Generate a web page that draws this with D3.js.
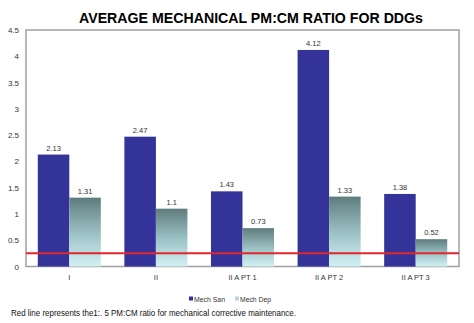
<!DOCTYPE html>
<html><head><meta charset="utf-8">
<script src="https://cdn.jsdelivr.net/npm/d3@7"></script>
<style>body{margin:0;background:#fff}svg{display:block}text{font-family:"Liberation Sans",Arial,sans-serif}</style>
</head><body><svg id="c" width="474" height="323"></svg>
<script>
const categories = ["I","II","II A PT 1","II A PT 2","II A PT 3"];
const mechSan = [2.13,2.47,1.43,4.12,1.38];
const mechDep = [1.31,1.1,0.73,1.33,0.52];
const yTicks = [0,0.5,1,1.5,2,2.5,3,3.5,4,4.5];
const seriesNames = ["Mech San","Mech Dep"];
const redLineValue = 0.25;

const svg = d3.select("#c");
const L=26,R=459,T=30,B=266.5;
const x = d3.scaleBand().domain(categories).range([L,R]).padding(0);
const y = d3.scaleLinear().domain([0,4.5]).range([B,T]);
const bw = x.bandwidth()*0.364;

const defs = svg.append("defs");
const g = defs.append("linearGradient").attr("id","dep").attr("x1",0).attr("y1",0).attr("x2",0).attr("y2",1);
g.append("stop").attr("offset","0%").attr("stop-color","#5f7c7d");
g.append("stop").attr("offset","55%").attr("stop-color","#9fc5c9");
g.append("stop").attr("offset","100%").attr("stop-color","#d2f0f4");

svg.append("text").attr("x",251).attr("y",23).attr("text-anchor","middle")
  .attr("font-weight","bold").attr("font-size",14.6).attr("fill","#000")
  .attr("textLength",344).attr("lengthAdjust","spacingAndGlyphs")
  .text("AVERAGE MECHANICAL PM:CM RATIO FOR DDGs");

svg.append("rect").attr("x",L).attr("y",T).attr("width",R-L).attr("height",B-T)
  .attr("fill","#fff").attr("stroke","#a0a0a0").attr("stroke-width",1.5);

// y ticks
svg.append("g").selectAll("text").data(yTicks).join("text")
  .attr("x",19).attr("y",d=>y(d)+3).attr("text-anchor","end")
  .attr("font-size",8).attr("fill","#333").text(d=>d);

// bars
svg.append("g").selectAll("rect").data(categories).join("rect")
  .attr("x",d=>x(d)+x.bandwidth()/2-bw).attr("y",(d,i)=>y(mechSan[i]))
  .attr("width",bw).attr("height",(d,i)=>B-y(mechSan[i])).attr("fill","#333399");
svg.append("g").selectAll("rect").data(categories).join("rect")
  .attr("x",d=>x(d)+x.bandwidth()/2).attr("y",(d,i)=>y(mechDep[i]))
  .attr("width",bw).attr("height",(d,i)=>B-y(mechDep[i])).attr("fill","url(#dep)");

// value labels
svg.append("g").selectAll("text").data(categories).join("text")
  .attr("x",d=>x(d)+x.bandwidth()/2-bw/2).attr("y",(d,i)=>y(mechSan[i])-4)
  .attr("text-anchor","middle").attr("font-size",7.5).attr("fill","#333").text((d,i)=>mechSan[i]);
svg.append("g").selectAll("text").data(categories).join("text")
  .attr("x",d=>x(d)+x.bandwidth()/2+bw/2).attr("y",(d,i)=>y(mechDep[i])-4)
  .attr("text-anchor","middle").attr("font-size",7.5).attr("fill","#333").text((d,i)=>mechDep[i]);

// red line
svg.append("line").attr("x1",L).attr("x2",R).attr("y1",y(redLineValue)).attr("y2",y(redLineValue))
  .attr("stroke","#e3262b").attr("stroke-width",2);

// category labels
svg.append("g").selectAll("text").data(categories).join("text")
  .attr("x",d=>x(d)+x.bandwidth()/2).attr("y",280).attr("text-anchor","middle")
  .attr("font-size",7.5).attr("fill","#333").text(d=>d);

// legend
const lg = [{n:seriesNames[0],x:189,f:"#333399"},{n:seriesNames[1],x:235,f:"#b8d6d8"}];
lg.forEach(l=>{
  svg.append("rect").attr("x",l.x).attr("y",296.5).attr("width",4).attr("height",4).attr("fill",l.f);
  svg.append("text").attr("x",l.x+5).attr("y",302).attr("font-size",7.5).attr("fill","#333")
    .attr("textLength",31).attr("lengthAdjust","spacingAndGlyphs").text(l.n);
});

svg.append("text").attr("x",11).attr("y",316).attr("font-size",8.6).attr("fill","#111")
  .attr("textLength",285).attr("lengthAdjust","spacingAndGlyphs")
  .text("Red line represents the1:. 5 PM:CM ratio for mechanical corrective maintenance.");
</script></body></html>
